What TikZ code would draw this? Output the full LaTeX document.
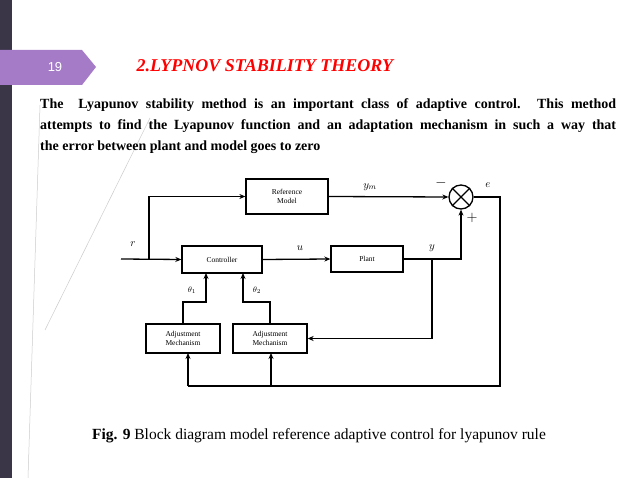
\documentclass[tikz,border=0pt]{standalone}
\usepackage{fontspec}
\setmainfont{Liberation Serif}
\newfontfamily\sansf{Liberation Sans}
\usetikzlibrary{arrows.meta}
\definecolor{barc}{HTML}{3B3548}
\definecolor{tabc}{HTML}{A57BC8}
\begin{document}
\begin{tikzpicture}[x=1pt,y=-1pt,
  blk/.style={draw,line width=1.3pt,font=\fontsize{7.5}{8.5}\selectfont,align=center,inner sep=0pt},
  wire/.style={line width=1.3pt},
  arr/.style={wire,-{Stealth[length=6pt,width=5pt]}},
  lbl/.style={font=\fontsize{11}{12}\selectfont\itshape}]
\useasboundingbox (0,0) rectangle (638,478);
\fill[white] (0,0) rectangle (638,478);
\fill[barc] (0,0) rectangle (12,478);
\fill[tabc] (0,50) -- (82,50) -- (96,67) -- (82,85) -- (0,85) -- cycle;
\node[text=white,font=\sansf\fontsize{13}{13}\selectfont] (num) at (55,67) {19};
\draw[gray!40,line width=0.5pt] (40,105) -- (28,478);
\draw[gray!40,line width=0.5pt] (150,118) -- (45,330);
\node[anchor=west,text=red,font=\bfseries\itshape\fontsize{18}{18}\selectfont] (title) at (133,66) {2.LYPNOV STABILITY THEORY};
\node[anchor=north west,inner sep=0pt,text width=576pt,align=justify,font=\bfseries\fontsize{14}{21}\selectfont] (para) at (40,98)
 {The\ \ Lyapunov stability method is an important class of adaptive control. This method\linebreak attempts to find the Lyapunov function and an adaptation mechanism in such a way that\linebreak the error between plant and model goes to zero};
% blocks
\node[blk,minimum width=82pt,minimum height=35pt] (ref) at (287,196.5) {Reference\\Model};
\node[blk,minimum width=80pt,minimum height=27pt] (ctrl) at (222,259.5) {Controller};
\node[blk,minimum width=72pt,minimum height=26pt] (plant) at (367,259) {Plant};
\node[blk,minimum width=74pt,minimum height=29pt] (adj1) at (183,338.5) {Adjustment\\Mechanism};
\node[blk,minimum width=74pt,minimum height=29pt] (adj2) at (270,338.5) {Adjustment\\Mechanism};
\node[draw,circle,line width=1.3pt,minimum size=24pt,inner sep=0pt] (sum) at (461,197) {};
\draw[line width=1.3pt] (sum.north west) -- (sum.south east) (sum.north east) -- (sum.south west);
\coordinate (in) at (121,259);
\coordinate (br) at (149,259);
\coordinate (yb) at (432,259);
\coordinate (ec) at (500,197);
% wires
\draw[arr] (in) -- (ctrl.west);
\draw[arr] (br) |- (ref.west);
\draw[arr] (ref.east) -- (sum.west);
\draw[arr] (ctrl.east) -- (plant.west);
\draw[arr] (plant.east) -| (sum.south);
\draw[arr] (yb) |- (adj2.east);
\draw[arr] (adj1.north) |- (206,302) -- (206,273);
\draw[arr] (adj2.north) |- (243,302) -- (243,273);
\draw[wire] (sum.east) -- (ec) |- (188,386);
\draw[arr] (188,386) -- (188,353);
\draw[arr] (271,386) -- (271,353);
% labels
\node[lbl] (lr) at (133,244) {$r$};
\node[lbl] (lym) at (370,187) {$y_m$};
\node[lbl] (lu) at (300,248) {$u$};
\node[lbl] (ly) at (432,248) {$y$};
\node[lbl] (le) at (488,185) {$e$};
\node[font=\fontsize{15}{15}\selectfont] (lm) at (441,183) {$-$};
\node[font=\fontsize{15}{15}\selectfont] (lp) at (472,218) {$+$};
\node[font=\fontsize{8.5}{9}\selectfont] (t1) at (192,290) {$\theta_1$};
\node[font=\fontsize{8.5}{9}\selectfont] (t2) at (257,290) {$\theta_2$};
\node[anchor=west,inner sep=0pt,font=\fontsize{15.5}{17}\selectfont] (cap) at (92,436) {\textbf{Fig. 9} Block diagram model reference adaptive control for lyapunov rule};
\end{tikzpicture}
\end{document}
